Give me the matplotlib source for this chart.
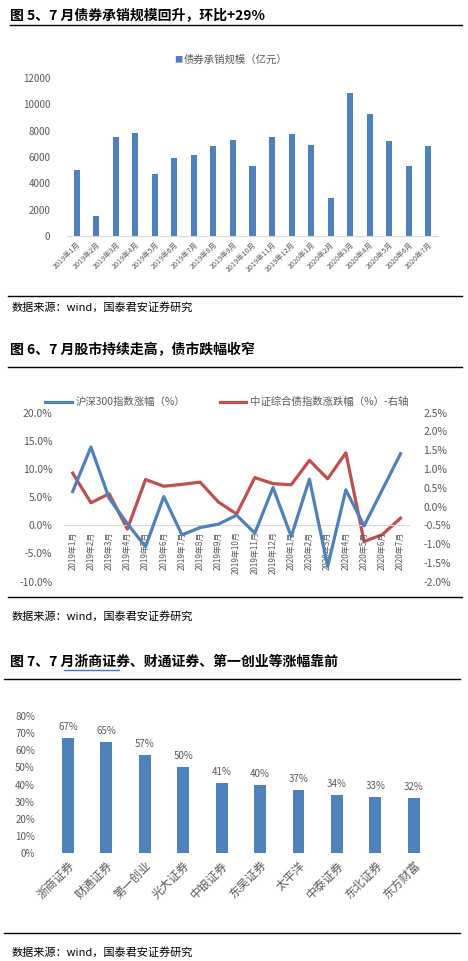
import matplotlib
matplotlib.use("Agg")
from matplotlib import pyplot as plt
from matplotlib.lines import Line2D

plt.rcParams['font.family'] = ['Noto Sans CJK SC', 'DejaVu Sans']

months = ["2019年1月", "2019年2月", "2019年3月", "2019年4月", "2019年5月", "2019年6月",
          "2019年7月", "2019年8月", "2019年9月", "2019年10月", "2019年11月", "2019年12月",
          "2020年1月", "2020年2月", "2020年3月", "2020年4月", "2020年5月", "2020年6月",
          "2020年7月"]
underwriting = [5050, 1500, 7550, 7850, 4700, 5950, 6150, 6850, 7300, 5330, 7530, 7760,
                6920, 2900, 10880, 9280, 7230, 5330, 6850]

hs300 = [6.0, 13.9, 4.8, 0.3, -3.8, 5.1, -1.7, -0.4, 0.2, 1.8, -1.4, 6.7,
         -2.0, 8.2, -7.3, 6.3, -0.1, 6.3, 12.7]
bond_idx = [0.89, 0.10, 0.34, -0.60, 0.72, 0.54, 0.59, 0.65, 0.12, -0.20, 0.77, 0.61,
            0.58, 1.23, 0.74, 1.43, -0.93, -0.75, -0.31]

brokers = ["浙商证券", "财通证券", "第一创业", "光大证券", "中银证券", "东吴证券",
           "太平洋", "中泰证券", "东北证券", "东方财富"]
gains = [67, 65, 57, 50, 41, 40, 37, 34, 33, 32]

BLUE = "#4F81BD"
RED = "#C0504D"
GREY = "#595959"
W, H = 468, 961

fig = plt.figure(figsize=(W / 100, H / 100), dpi=100)


def fx(px):
    return px / W


def fy(py):
    return 1 - py / H


def hline(y, x0=8, x1=462, color="black", lw=1.0):
    fig.add_artist(Line2D([fx(x0), fx(x1)], [fy(y), fy(y)], color=color, lw=lw,
                          transform=fig.transFigure))


def title(y, s):
    fig.text(fx(10), fy(y), s, fontsize=10, fontweight="bold", va="center", ha="left")


def source(y):
    fig.text(fx(12), fy(y), "数据来源：wind，国泰君安证券研究", fontsize=8, va="center", ha="left")


# ---------- panel 1 ----------
title(15, "图 5、7 月债券承销规模回升，环比+29%")
hline(25, 10, 462)
ax1 = fig.add_axes([fx(67), fy(236), fx(438 - 67), (236 - 78) / H])
x = list(range(len(months)))
ax1.bar(x, underwriting, width=0.31, color=BLUE)
ax1.set_xlim(-0.5, len(months) - 0.5)
ax1.set_ylim(0, 12000)
ax1.set_yticks(range(0, 12001, 2000))
ax1.set_xticks(x)
ax1.set_xticklabels(months, rotation=45, ha="right", rotation_mode="anchor", fontsize=5.2, color=GREY)
ax1.tick_params(axis="y", labelsize=7, colors=GREY, length=0, pad=12)
ax1.tick_params(axis="x", length=0, pad=3)
for s in ["top", "right", "left"]:
    ax1.spines[s].set_visible(False)
ax1.spines["bottom"].set_color("#D9D9D9")
fig.text(fx(174), fy(60), "■", color=BLUE, fontsize=6, va="center", ha="left")
fig.text(fx(184), fy(60), "债券承销规模（亿元）", color=GREY, fontsize=7.5, va="center", ha="left")
hline(296, 8, 462)
source(307)

# ---------- panel 2 ----------
title(350, "图 6、7 月股市持续走高，债市跌幅收窄")
hline(367, 8, 462)
ax2 = fig.add_axes([fx(63.6), fy(581.6), fx(346), (581.6 - 412.7) / H])
ax2.plot(x, hs300, color=BLUE, lw=2.3)
ax2.set_xlim(-0.5, len(months) - 0.5)
ax2.set_ylim(-10, 20)
ax2.set_yticks(range(-10, 21, 5))
ax2.set_yticklabels(["%.1f%%" % v for v in range(-10, 21, 5)])
ax2.axhline(0, color="#D9D9D9", lw=0.8, zorder=0)
ax2.set_xticks(x)
ax2.set_xticklabels(months, rotation=90, fontsize=5.8, color=GREY)
ax2.tick_params(axis="y", labelsize=7.5, colors=GREY, length=0, pad=8)
ax2.tick_params(axis="x", length=0, pad=-36)
for s in ax2.spines.values():
    s.set_visible(False)
ax2r = ax2.twinx()
ax2r.plot(x, bond_idx, color=RED, lw=2.3)
ax2r.set_ylim(-2.0, 2.5)
rt = [-2.0, -1.5, -1.0, -0.5, 0.0, 0.5, 1.0, 1.5, 2.0, 2.5]
ax2r.set_yticks(rt)
ax2r.set_yticklabels(["%.1f%%" % v for v in rt])
ax2r.tick_params(axis="y", labelsize=7.5, colors=GREY, length=0, pad=10)
for s in ax2r.spines.values():
    s.set_visible(False)
ax2.set_zorder(ax2r.get_zorder() + 1)
ax2.patch.set_visible(False)
hline(402, 45, 72, color=BLUE, lw=2.3)
fig.text(fx(76), fy(402), "沪深300指数涨幅（%）", color=GREY, fontsize=7.5, va="center", ha="left")
hline(402, 220, 246, color=RED, lw=2.3)
fig.text(fx(250), fy(402), "中证综合债指数涨跌幅（%）-右轴", color=GREY, fontsize=7.5, va="center", ha="left")
hline(597, 8, 462)
source(616)

# ---------- panel 3 ----------
title(662, "图 7、7 月浙商证券、财通证券、第一创业等涨幅靠前")
hline(670, 64, 119, color="#4472C4", lw=1.0)
hline(679, 4, 460)
ax3 = fig.add_axes([fx(48.8), fy(853.3), fx(433 - 48.8), (853.3 - 716) / H])
x3 = list(range(len(brokers)))
ax3.bar(x3, gains, width=0.31, color=BLUE)
for i, v in enumerate(gains):
    ax3.text(i, v + 3.5, "%d%%" % v, ha="center", va="bottom", fontsize=7, color=GREY)
ax3.set_xlim(-0.5, len(brokers) - 0.5)
ax3.set_ylim(0, 80)
ax3.set_yticks(range(0, 81, 10))
ax3.set_yticklabels(["%d%%" % v for v in range(0, 81, 10)])
ax3.set_xticks(x3)
ax3.set_xticklabels(brokers, rotation=45, ha="right", rotation_mode="anchor", fontsize=8.5, color=GREY)
ax3.tick_params(axis="y", labelsize=7, colors=GREY, length=0, pad=10)
ax3.tick_params(axis="x", length=0, pad=4)
for s in ax3.spines.values():
    s.set_visible(False)
hline(933, 4, 460)
source(952)

fig.savefig("out.png", dpi=100)
